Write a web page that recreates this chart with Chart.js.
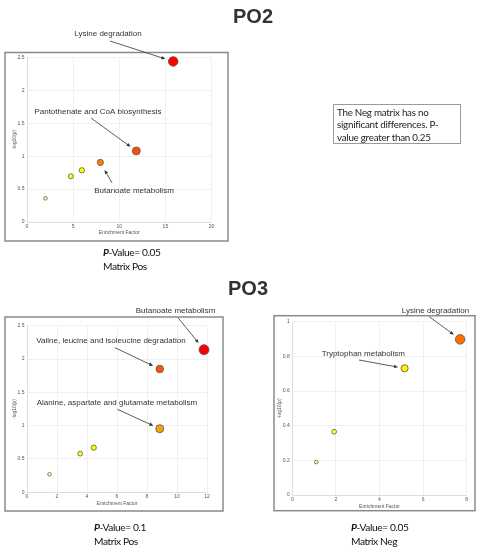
<!DOCTYPE html>
<html>
<head>
<meta charset="utf-8">
<script src="https://cdn.jsdelivr.net/npm/chart.js@4.4.1/dist/chart.umd.min.js"></script>
<style>
  html, body { margin: 0; padding: 0; background: #fff; }
  #page { position: relative; width: 479px; height: 550px; overflow: hidden; font-family: 'Liberation Sans', Arial, sans-serif; }
  #page canvas { position: absolute; left: 0; top: 0; }
  .title { position: absolute; font-weight: bold; font-size: 20px; color: #333; transform: translate(-50%, -50%); white-space: nowrap; }
  .caption { position: absolute; font-family: Lato, 'Open Sans', sans-serif; font-size: 10.2px; letter-spacing: -0.4px;
             line-height: 13.5px; color: #111; white-space: nowrap; }
  .caption b { font-style: italic; }
  .note { position: absolute; left: 333px; top: 104px; width: 128px; height: 40px; box-sizing: border-box;
          border: 1px solid #9a9a9a; padding: 0.5px 0 0 3px; font-family: Lato, 'Open Sans', sans-serif;
          font-size: 9.8px; letter-spacing: -0.25px; line-height: 12.5px; color: #222; white-space: nowrap; }
</style>
</head>
<body>
<div id="page">
  <canvas id="c1" width="479" height="550"></canvas>
  <canvas id="c2" width="479" height="550"></canvas>
  <canvas id="c3" width="479" height="550"></canvas>

  <div class="title" style="left:253px; top:15.5px;">PO2</div>
  <div class="title" style="left:248px; top:287.5px;">PO3</div>

  <div class="note">The Neg matrix has no<br>significant differences. P-<br>value greater than 0.25</div>

  <div class="caption" style="left:103px; top:246px;"><b>P</b>-Value= 0.05<br>Matrix Pos</div>
  <div class="caption" style="left:94px; top:521px;"><b>P</b>-Value= 0.1<br>Matrix Pos</div>
  <div class="caption" style="left:351px; top:521px;"><b>P</b>-Value= 0.05<br>Matrix Neg</div>
</div>

<script>
// PO2, positive matrix
const po2PosNames = ['Lysine degradation', 'Pantothenate and CoA biosynthesis', 'Butanoate metabolism', '', '', ''];
const po2PosEF = [15.85, 11.85, 7.95, 5.95, 4.75, 2.0];
const po2PosLogP = [2.44, 1.08, 0.905, 0.785, 0.695, 0.36];
const po2PosSize = [4.8, 4.0, 3.1, 2.7, 2.5, 1.8];
const po2PosColor = ['#ff0000', '#ff4a0c', '#ff7c00', '#ffff00', '#ffff10', '#ffffb8'];
const po2PosXTicks = [0, 5, 10, 15, 20];
const po2PosYTicks = [0, 0.5, 1, 1.5, 2, 2.5];

// PO3, positive matrix
const po3PosNames = ['Butanoate metabolism', 'Valine, leucine and isoleucine degradation',
  'Alanine, aspartate and glutamate metabolism', '', '', ''];
const po3PosEF = [11.8, 8.85, 8.85, 4.45, 3.55, 1.5];
const po3PosLogP = [2.14, 1.85, 0.955, 0.67, 0.58, 0.27];
const po3PosSize = [5.0, 3.8, 4.0, 2.6, 2.4, 1.8];
const po3PosColor = ['#ff0000', '#ff5010', '#f8a010', '#ffff00', '#ffff10', '#ffffb8'];
const po3PosXTicks = [0, 2, 4, 6, 8, 10, 12];
const po3PosYTicks = [0, 0.5, 1, 1.5, 2, 2.5];

// PO3, negative matrix
const po3NegNames = ['Lysine degradation', 'Tryptophan metabolism', '', ''];
const po3NegEF = [7.7, 5.15, 1.92, 1.1];
const po3NegLogP = [0.898, 0.731, 0.365, 0.19];
const po3NegSize = [4.8, 3.6, 2.4, 1.8];
const po3NegColor = ['#ff6c00', '#ffef00', '#ffff30', '#ffffb8'];
const po3NegXTicks = [0, 2, 4, 6, 8];
const po3NegYTicks = [0, 0.2, 0.4, 0.6, 0.8, 1];

const W = 479, H = 550;

// frame around each plot + callout labels with arrows
const framePlugin = {
  id: 'frameNotes',
  beforeDraw(chart, args, o) {
    const ctx = chart.ctx, f = o.frame;
    ctx.save();
    ctx.strokeStyle = '#8a8a8a';
    ctx.lineWidth = 1.5;
    ctx.strokeRect(f[0], f[1], f[2] - f[0], f[3] - f[1]);
    ctx.restore();
  },
  afterDatasetsDraw(chart, args, o) {
    const ctx = chart.ctx;
    const xs = chart.scales.x, ys = chart.scales.y;
    const ds = chart.data.datasets[0];
    ctx.save();
    ctx.font = '8px "Liberation Sans", Arial, sans-serif';
    ctx.fillStyle = '#333';
    ctx.strokeStyle = '#333';
    ctx.textAlign = 'center';
    ctx.textBaseline = 'middle';
    o.notes.forEach(n => {
      const p = ds.data[n.i];
      const px = xs.getPixelForValue(p.x), py = ys.getPixelForValue(p.y);
      ctx.fillText(o.names[n.i], n.tx, n.ty);
      const dx = px - n.tail[0], dy = py - n.tail[1];
      const len = Math.hypot(dx, dy);
      const ux = dx / len, uy = dy / len;
      const stop = ds.pointRadius[n.i] + n.gap;
      const hx = px - ux * stop, hy = py - uy * stop;
      ctx.lineWidth = 0.8;
      ctx.beginPath();
      ctx.moveTo(n.tail[0], n.tail[1]);
      ctx.lineTo(hx - ux * 3, hy - uy * 3);
      ctx.stroke();
      const hl = 4, hw = 1.7;
      ctx.beginPath();
      ctx.moveTo(hx, hy);
      ctx.lineTo(hx - ux * hl - uy * hw, hy - uy * hl + ux * hw);
      ctx.lineTo(hx - ux * hl + uy * hw, hy - uy * hl - ux * hw);
      ctx.closePath();
      ctx.fill();
    });
    ctx.restore();
  }
};

const panels = [
  { id: 'c1', names: po2PosNames, ef: po2PosEF, logp: po2PosLogP, size: po2PosSize, color: po2PosColor,
    xTicks: po2PosXTicks, yTicks: po2PosYTicks,
    area: { left: 27, right: 211.5, top: 57.5, bottom: 222 }, yAxisW: 22, xAxisH: 14, yTitlePad: 7,
    frame: [5, 52.5, 228, 241],
    notes: [
      { i: 0, tx: 108, ty: 33.5, tail: [110, 41], gap: 3.5 },
      { i: 1, tx: 98, ty: 112, tail: [91, 118], gap: 3 },
      { i: 2, tx: 134, ty: 191, tail: [112, 183], gap: 5.5 }
    ] },
  { id: 'c2', names: po3PosNames, ef: po3PosEF, logp: po3PosLogP, size: po3PosSize, color: po3PosColor,
    xTicks: po3PosXTicks, yTicks: po3PosYTicks,
    area: { left: 27, right: 207, top: 325.7, bottom: 492.3 }, yAxisW: 22, xAxisH: 14, yTitlePad: 7,
    frame: [5, 317, 223, 511],
    notes: [
      { i: 0, tx: 175.5, ty: 310.7, tail: [178, 317.7], gap: 3.5 },
      { i: 1, tx: 111, ty: 341, tail: [115, 347.7], gap: 3.5 },
      { i: 2, tx: 117, ty: 402.7, tail: [117.3, 409.3], gap: 3 }
    ] },
  { id: 'c3', names: po3NegNames, ef: po3NegEF, logp: po3NegLogP, size: po3NegSize, color: po3NegColor,
    xTicks: po3NegXTicks, yTicks: po3NegYTicks,
    area: { left: 292.3, right: 466.7, top: 321.7, bottom: 495 }, yAxisW: 18.3, xAxisH: 14.7, yTitlePad: 3,
    frame: [274, 315.7, 475, 510.7],
    notes: [
      { i: 0, tx: 435.5, ty: 311, tail: [429.3, 316.7], gap: 3 },
      { i: 1, tx: 363.3, ty: 354, tail: [359, 360], gap: 3 }
    ] }
];

const tickFont = { family: "'Liberation Sans', Arial, sans-serif", size: 5 };

panels.forEach(pn => {
  new Chart(document.getElementById(pn.id), {
    type: 'scatter',
    data: {
      datasets: [{
        data: pn.ef.map((x, i) => ({ x: x, y: pn.logp[i] })),
        clip: false,
        pointRadius: pn.size,
        pointBackgroundColor: pn.color,
        pointBorderColor: '#5a5a4a',
        pointBorderWidth: 0.8
      }]
    },
    options: {
      responsive: false,
      animation: false,
      events: [],
      layout: {
        padding: {
          left: pn.area.left - pn.yAxisW,
          right: W - pn.area.right,
          top: pn.area.top,
          bottom: H - pn.area.bottom - pn.xAxisH
        }
      },
      scales: {
        x: {
          type: 'linear',
          min: pn.xTicks[0],
          max: pn.xTicks[pn.xTicks.length - 1],
          afterBuildTicks: s => { s.ticks = pn.xTicks.map(v => ({ value: v })); },
          afterFit: s => { s.height = pn.xAxisH; },
          grid: { color: '#ececec', lineWidth: 0.8, drawTicks: false },
          border: { color: '#dadada', width: 0.8 },
          ticks: { font: tickFont, color: '#555', padding: 1.5, maxRotation: 0, autoSkip: false,
                   callback: v => String(v) },
          title: { display: true, text: 'Enrichment Factor', font: tickFont, color: '#555',
                   padding: { top: 0, bottom: 0 } }
        },
        y: {
          type: 'linear',
          min: pn.yTicks[0],
          max: pn.yTicks[pn.yTicks.length - 1],
          afterBuildTicks: s => { s.ticks = pn.yTicks.map(v => ({ value: v })); },
          afterFit: s => { s.width = pn.yAxisW; },
          grid: { color: '#ececec', lineWidth: 0.8, drawTicks: false },
          border: { color: '#dadada', width: 0.8 },
          ticks: { font: tickFont, color: '#555', padding: 2.5, autoSkip: false,
                   callback: v => String(v) },
          title: { display: true, text: '-log10(p)', font: tickFont, color: '#555',
                   padding: { top: pn.yTitlePad, bottom: 0 } }
        }
      },
      plugins: {
        legend: { display: false },
        tooltip: { enabled: false },
        frameNotes: { frame: pn.frame, notes: pn.notes, names: pn.names }
      }
    },
    plugins: [framePlugin]
  });
});
</script>
</body>
</html>
